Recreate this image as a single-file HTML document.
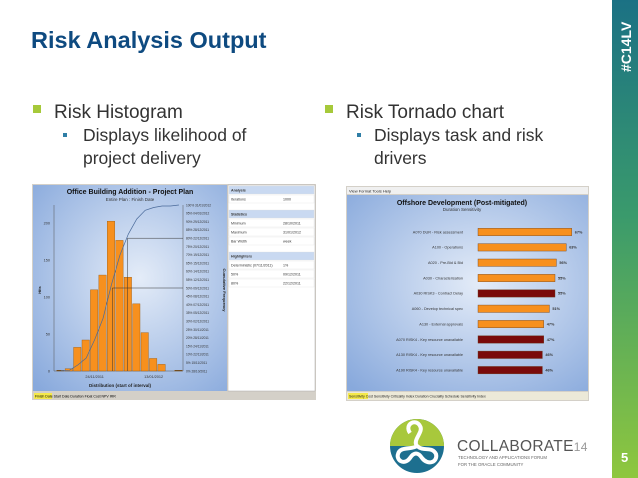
<!DOCTYPE html>
<html><head><meta charset="utf-8"><style>
html,body{margin:0;padding:0;background:#fff;width:638px;height:478px;overflow:hidden}
svg{display:block;font-family:"Liberation Sans",Arial,sans-serif}
</style></head><body>
<svg id="slide" width="638" height="478" viewBox="0 0 638 478" xmlns="http://www.w3.org/2000/svg">
<defs>
<linearGradient id="side" x1="0" y1="0" x2="0" y2="1"><stop offset="0" stop-color="#1b7184"/><stop offset="0.45" stop-color="#3a9a6c"/><stop offset="1" stop-color="#8fc73e"/></linearGradient>
<radialGradient id="bgblue" cx="0.55" cy="0.45" r="0.75"><stop offset="0" stop-color="#e4ecf8"/><stop offset="1" stop-color="#88a9dc"/></radialGradient>
</defs>
<rect x="612" y="0" width="26" height="478" fill="url(#side)"/>
<text transform="translate(631,72) rotate(-90)" font-size="14" font-weight="bold" fill="#fff">#C14LV</text>
<text x="621" y="462" font-size="13" font-weight="bold" fill="#fff">5</text>

<text x="31" y="48" font-size="23.5" font-weight="bold" fill="#0e4a80">Risk Analysis Output</text>

<rect x="33" y="105" width="8" height="8" fill="#a6c93a"/>
<text x="54" y="118" font-size="19" fill="#333">Risk Histogram</text>
<rect x="63" y="133" width="4" height="4" fill="#2f7ea6"/>
<text x="83" y="141" font-size="17.5" fill="#333"><tspan x="83">Displays likelihood of</tspan><tspan x="83" y="164">project delivery</tspan></text>

<rect x="325" y="105" width="8" height="8" fill="#a6c93a"/>
<text x="346" y="118" font-size="19" fill="#333">Risk Tornado chart</text>
<rect x="357" y="133" width="4" height="4" fill="#2f7ea6"/>
<text x="374" y="141" font-size="17.5" fill="#333"><tspan x="374">Displays task and risk</tspan><tspan x="374" y="164">drivers</tspan></text>

<!-- Histogram screenshot -->
<g id="hist">
<rect x="32" y="184" width="284" height="216" fill="#d4d0c8"/>
<rect x="33" y="185" width="194" height="206" fill="url(#bgblue)"/>
<rect x="228" y="185" width="87" height="206" fill="#fff" stroke="#aaa" stroke-width="0.5"/>
<rect x="32" y="392" width="284" height="8" fill="#d4d0c8"/>
<rect x="34" y="393" width="18" height="6" fill="#f5e94a"/>
<text x="35" y="397.5" font-size="3.5" fill="#000">Finish Date  Start Date  Duration  Float  Cost  NPV  IRR</text>
<text x="130" y="194" font-size="7" font-weight="bold" text-anchor="middle" fill="#111">Office Building Addition - Project Plan</text>
<text x="130" y="201" font-size="4.5" text-anchor="middle" fill="#333">Entire Plan : Finish Date</text>
<text x="120" y="387" font-size="4.5" font-weight="bold" text-anchor="middle" fill="#222">Distribution (start of interval)</text>
<text transform="translate(41,290) rotate(-90)" font-size="4" font-weight="bold" text-anchor="middle" fill="#222">Hits</text>
<text transform="translate(223,290) rotate(90)" font-size="4" font-weight="bold" text-anchor="middle" fill="#222">Cumulative Frequency</text>
<g id="histMarks"></g>
<g id="panel"></g>
</g>

<!-- Tornado screenshot -->
<g id="torn">
<rect x="346" y="186" width="243" height="215" fill="#d4d0c8"/>
<rect x="347" y="195" width="241" height="196" fill="url(#bgblue)"/>
<rect x="347" y="187" width="241" height="7" fill="#f0f0f0"/>
<text x="349" y="192.5" font-size="4" fill="#222">View   Format   Tools   Help</text>
<rect x="347" y="392" width="241" height="8" fill="#ece9d8"/>
<rect x="348" y="393" width="20" height="6" fill="#f5e94a"/>
<text x="349" y="397.5" font-size="3.5" fill="#222">Sensitivity   Cost Sensitivity   Criticality Index   Duration Cruciality   Schedule Sensitivity Index</text>
<text x="462" y="205" font-size="7" font-weight="bold" text-anchor="middle" fill="#111">Offshore Development (Post-mitigated)</text>
<text x="462" y="211" font-size="4.5" text-anchor="middle" fill="#333">Duration Sensitivity</text>
<g id="tornMarks"></g>
</g>

<!-- Logo -->
<g>
<circle cx="417" cy="446" r="27" fill="#1d6f8f"/>
<path d="M390,446 A27,27 0 0 1 444,446 L417,446 Z" fill="#a8c83c"/>
<path d="M410,433 C404,424 416,418 420,426 C424,432 412,440 417,446 C424,452 432,446 436,454 C438,462 428,466 422,458 C418,452 414,452 410,458 C404,466 396,460 398,454 C400,446 412,450 417,446" fill="none" stroke="#fff" stroke-width="4"/>
<text x="457" y="451" font-size="15.5" fill="#555" letter-spacing="0.3">COLLABORATE<tspan font-size="12" fill="#999">14</tspan></text>
<text x="458" y="459" font-size="4.3" fill="#666"><tspan x="458">TECHNOLOGY AND APPLICATIONS FORUM</tspan><tspan x="458" y="466">FOR THE ORACLE COMMUNITY</tspan></text>
</g>
</svg>
<script>
var NS='http://www.w3.org/2000/svg';
function mk(p,t,a){var e=document.createElementNS(NS,t);for(var k in a)e.setAttribute(k,a[k]);p.appendChild(e);return e;}
// Histogram data
var histBins=['b1','b2','b3','b4','b5','b6','b7','b8','b9','b10','b11','b12','b13','b14','b15'];
var histHits=[1,3,32,42,110,130,203,177,127,91,52,17,9,0,1];
var histCum=[0.1,0.4,3.6,7.8,18.8,31.8,52.1,69.8,82.5,91.6,96.8,98.5,99.4,99.4,100];
var yTicks=[0,50,100,150,200];
var cumTickLabels=['0% 28/10/2011','5% 15/11/2011','10% 22/11/2011','15% 24/11/2011','20% 28/11/2011','25% 30/11/2011','30% 02/12/2011','35% 05/12/2011','40% 07/12/2011','45% 08/12/2011','50% 09/12/2011','55% 12/12/2011','60% 14/12/2011','65% 15/12/2011','70% 19/12/2011','75% 20/12/2011','80% 22/12/2011','85% 28/12/2011','90% 29/12/2011','95% 04/01/2012','100% 31/01/2012'];
var xTickLabels=['24/11/2011','13/01/2012'];
var xTickBins=[4.5,11.5];
var hx0=56.7,hbw=8.43,hy0=371,hyScale=0.738;
function hxB(i){return hx0+i*hbw;}
function hY(v){return hy0-v*hyScale;}
function hP(p){return hy0-p*1.66;}
var hm=document.getElementById('histMarks');
var ax=mk(hm,'line',{x1:54,y1:205,x2:54,y2:hy0,stroke:'#555','stroke-width':0.5});


var ax2=mk(hm,'line',{x1:183,y1:205,x2:183,y2:hy0,stroke:'#555','stroke-width':0.5});


var bl=mk(hm,'line',{x1:54,y1:hy0,x2:183,y2:hy0,stroke:'#555','stroke-width':0.5});


yTicks.forEach(function(v){
  var t=mk(hm,'text',{x:50,y:hY(v)+1.3,'font-size':3.8,'text-anchor':'end',fill:'#333'});t.textContent=v;
  
  
});
cumTickLabels.forEach(function(s,i){
  var t=mk(hm,'text',{x:186,y:hP(i*5)+1.3,'font-size':3.2,fill:'#333'});t.textContent=s;
  
  
});
xTickLabels.forEach(function(s,i){
  var t=mk(hm,'text',{x:hxB(xTickBins[i]),y:378,'font-size':3.8,'text-anchor':'middle',fill:'#333'});t.textContent=s;
  
  
});
histHits.forEach(function(v,i){
  var r=mk(hm,'rect',{x:hxB(i),y:hY(v),width:hbw-1,height:v*hyScale,fill:i==0||i==14?'#222':'#f7901e',stroke:'#9a5a10','stroke-width':0.4});
  
  
});
var pts=histCum.map(function(p,i){return (hxB(i)+hbw/2)+','+hP(p);}).join(' ');
var pl=mk(hm,'polyline',{points:pts,fill:'none',stroke:'#4a6a9a','stroke-width':0.7});


[[50,hxB(6.6)],[80,hxB(8.4)]].forEach(function(m){
  var l=mk(hm,'polyline',{points:m[1]+','+hy0+' '+m[1]+','+hP(m[0])+' 183,'+hP(m[0]),fill:'none',stroke:'#333','stroke-width':0.5});
  
  
});
// right panel
var pn=document.getElementById('panel');
var rows=[['h','Analysis'],['r','Iterations','1000'],['s'],['h','Statistics'],['r','Minimum','28/10/2011'],['r','Maximum','31/01/2012'],['r','Bar Width','week'],['s'],['h','Highlighters'],['r','Deterministic (07/11/2011)','1%'],['r','50%','09/12/2011'],['r','80%','22/12/2011']];
var ry=186;
rows.forEach(function(r){
  if(r[0]=='s'){ry+=6;return;}
  var bg=mk(pn,'rect',{x:229,y:ry,width:85,height:8,fill:r[0]=='h'?'#c9d9f1':'#fff',stroke:'#ddd','stroke-width':0.3});
  
  
  var t=mk(pn,'text',{x:231,y:ry+5.5,'font-size':3.6,fill:'#333','font-weight':r[0]=='h'?'bold':'normal'});t.textContent=r[1];
  
  
  if(r[2]){var v=mk(pn,'text',{x:283,y:ry+5.5,'font-size':3.6,fill:'#333'});v.textContent=r[2];
  
  }
  ry+=9;
});
// Tornado data
var tornLabels=['A070 DUR - Risk assessment','A100 - Operations','A020 - Pre-Bid & Bid','A030 - Characterisation','A030 RISK3 - Contract Delay','A060 - Develop technical spec','A130 - External approvals','A070 RISK4 - Key resource unavailable','A130 RISK4 - Key resource unavailable','A190 RISK4 - Key resource unavailable'];
var tornValues=[67,63,56,55,55,51,47,47,46,46];
var tornIsRisk=[0,0,0,0,1,0,0,1,1,1];
var tx0=478,txs=1.40,ty0=232,tstep=15.35;
function tX(v){return tx0+v*txs;}
function tY(i){return ty0+i*tstep;}
var tm=document.getElementById('tornMarks');
tornValues.forEach(function(v,i){
  var r=mk(tm,'rect',{x:tx0,y:tY(i)-3.7,width:v*txs,height:7.4,fill:tornIsRisk[i]?'#7a0a0a':'#f7901e',stroke:'#6a4020','stroke-width':0.4});
  
  
  var l=mk(tm,'text',{x:463,y:tY(i)+1.3,'font-size':3.8,'text-anchor':'end',fill:'#333'});l.textContent=tornLabels[i];
  
  
  var p=mk(tm,'text',{x:tX(v)+3,y:tY(i)+1.3,'font-size':3.8,'font-weight':'bold',fill:'#333'});p.textContent=v+'%';
  
  
});
</script>
</body></html>
